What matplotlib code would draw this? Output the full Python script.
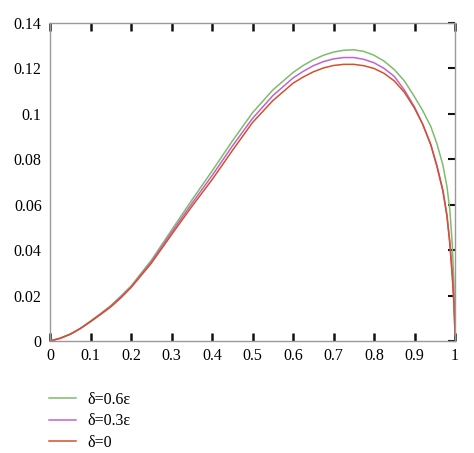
import matplotlib.pyplot as plt

# 곡선 데이터
x = [0, 0.025, 0.05, 0.075, 0.1, 0.125, 0.15, 0.175, 0.2, 0.25, 0.3, 0.35, 0.4, 0.45,
     0.5, 0.55, 0.6, 0.625, 0.65, 0.675, 0.7, 0.725, 0.75, 0.775, 0.8, 0.825, 0.85,
     0.875, 0.9, 0.92, 0.94, 0.955, 0.97, 0.98, 0.987, 0.993, 0.997, 1.0]
y_06 = [0, 0.0012, 0.003, 0.0056, 0.0088, 0.0121, 0.0156, 0.0198, 0.0242, 0.0355, 0.0488,
        0.062, 0.0748, 0.088, 0.1005, 0.1105, 0.1182, 0.1213, 0.1238, 0.1258, 0.1272,
        0.1280, 0.1282, 0.1275, 0.1258, 0.1232, 0.1195, 0.1145, 0.1075, 0.1015, 0.0945,
        0.087, 0.0775, 0.068, 0.058, 0.043, 0.026, 0.009]
y_03 = [0, 0.0012, 0.003, 0.0055, 0.0086, 0.0119, 0.0153, 0.0194, 0.0238, 0.0348, 0.0478,
        0.0605, 0.0728, 0.0858, 0.098, 0.108, 0.1158, 0.1187, 0.1212, 0.1230, 0.1242,
        0.1248, 0.1248, 0.1240, 0.1225, 0.1200, 0.1165, 0.1105, 0.103, 0.0955, 0.0865,
        0.0775, 0.0665, 0.0555, 0.044, 0.030, 0.018, 0.004]
y_00 = [0, 0.0012, 0.003, 0.0055, 0.0085, 0.0117, 0.015, 0.019, 0.0235, 0.0342, 0.0468,
        0.0592, 0.071, 0.0838, 0.0962, 0.1058, 0.1135, 0.1162, 0.1185, 0.1202, 0.1213,
        0.1218, 0.1218, 0.1212, 0.1200, 0.1178, 0.1145, 0.1095, 0.1025, 0.0955, 0.0865,
        0.077, 0.066, 0.055, 0.043, 0.029, 0.017, 0.0026]
labels = ['δ=0.6ε', 'δ=0.3ε', 'δ=0']
colors = ['#7dbd6c', '#c462cc', '#d2512c']

plt.rcParams['font.family'] = ['Liberation Serif', 'DejaVu Serif']

fig = plt.figure(figsize=(4.74, 4.53), dpi=100)
ax = fig.add_axes([0.1055, 0.2472, 0.8545, 0.702])

for yy, lab, c in zip([y_06, y_03, y_00], labels, colors):
    ax.plot(x, yy, color=c, lw=1.1, label=lab)

ax.set_xlim(0, 1)
ax.set_ylim(0, 0.14)
ax.set_xticks([0, 0.1, 0.2, 0.3, 0.4, 0.5, 0.6, 0.7, 0.8, 0.9, 1])
ax.set_xticklabels(['0', '0.1', '0.2', '0.3', '0.4', '0.5', '0.6', '0.7', '0.8', '0.9', '1'])
ax.set_yticks([0, 0.02, 0.04, 0.06, 0.08, 0.1, 0.12, 0.14])
ax.set_yticklabels(['0', '0.02', '0.04', '0.06', '0.08', '0.1', '0.12', '0.14'])
ax.tick_params(axis='x', direction='in', bottom=True, top=True, labelsize=11.5,
               length=5.5, width=1.8, color='#111111', pad=5)
ax.tick_params(axis='y', direction='in', left=False, right=True, labelsize=11.5,
               length=5, width=1.5, color='#111111', pad=6)
for s in ax.spines.values():
    s.set_color('#999999')
    s.set_linewidth(1)

fig.legend(loc='upper left', bbox_to_anchor=(0.103, 0.885 - 0.75), frameon=False,
           fontsize=11.5, handlelength=1.7, handletextpad=0.7, labelspacing=0.35,
           borderpad=0, borderaxespad=0)

fig.savefig('out.png', dpi=100)
